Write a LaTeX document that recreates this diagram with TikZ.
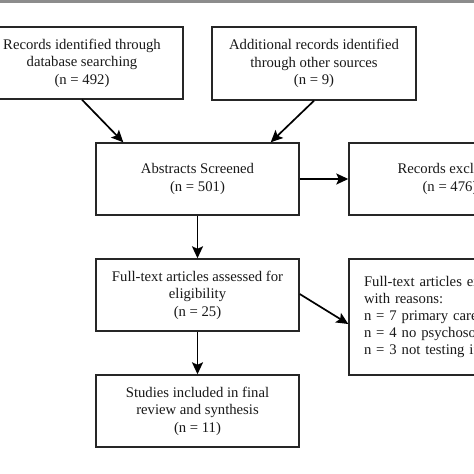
\documentclass[tikz,border=0pt]{standalone}
\usepackage{fontspec}
\setmainfont{Liberation Serif}
\usetikzlibrary{arrows.meta,calc}
\begin{document}
\begin{tikzpicture}[x=1pt,y=-1pt,
  box/.style={draw=black!85, line width=1.4pt, minimum width=203pt, minimum height=72pt,
    inner sep=0pt, align=center, font=\fontsize{14.7}{17.5}\selectfont, text=black!90},
  arr/.style={line width=1.7pt, draw=black, -{Stealth[length=12pt,width=11pt,inset=2.5pt]}}]
\useasboundingbox (0,0) rectangle (474,474);
\fill[white] (0,0) rectangle (474,474);
\fill[gray!90] (0,0) rectangle (474,2.5);
\node[box, minimum width=202pt] (rec1) at (82,63) {Records identified through\\database searching\\(n = 492)};
\node[box, minimum width=204pt, minimum height=73pt] (rec2) at (314,63.5) {Additional records identified\\through other sources\\(n = 9)};
\node[box] (abs) at (197.5,179) {Abstracts Screened\\(n = 501)};
\node[box, minimum width=202pt] (ex1) at (450,179) {Records excluded\\(n = 476)};
\node[box] (ft) at (197.5,295) {Full-text articles assessed for\\eligibility\\(n = 25)};
\node[box, minimum width=202pt, minimum height=116pt, text width=172pt, align=left,
  font=\fontsize{14.7}{16.8}\selectfont] (ex2) at (450,317)
  {\mbox{Full-text articles excluded}\\\mbox{with reasons:}\\\mbox{n = 7 primary care}\\\mbox{n = 4 no psychosocial}\\\mbox{n = 3 not testing intervention}};
\node[box] (st) at (197.5,411) {Studies included in final\\review and synthesis\\(n = 11)};
\draw[arr] (rec1.south) -- ([xshift=28pt]abs.north west);
\draw[arr] (rec2.south) -- ([xshift=-29pt]abs.north east);
\draw[arr] (abs.east) -- (ex1.west);
\draw[arr] (abs.south) -- (ft.north);
\draw[arr] ([yshift=1pt]ft.east) -- ([yshift=-7pt]ex2.west);
\draw[arr] (ft.south) -- (st.north);
\end{tikzpicture}
\end{document}
